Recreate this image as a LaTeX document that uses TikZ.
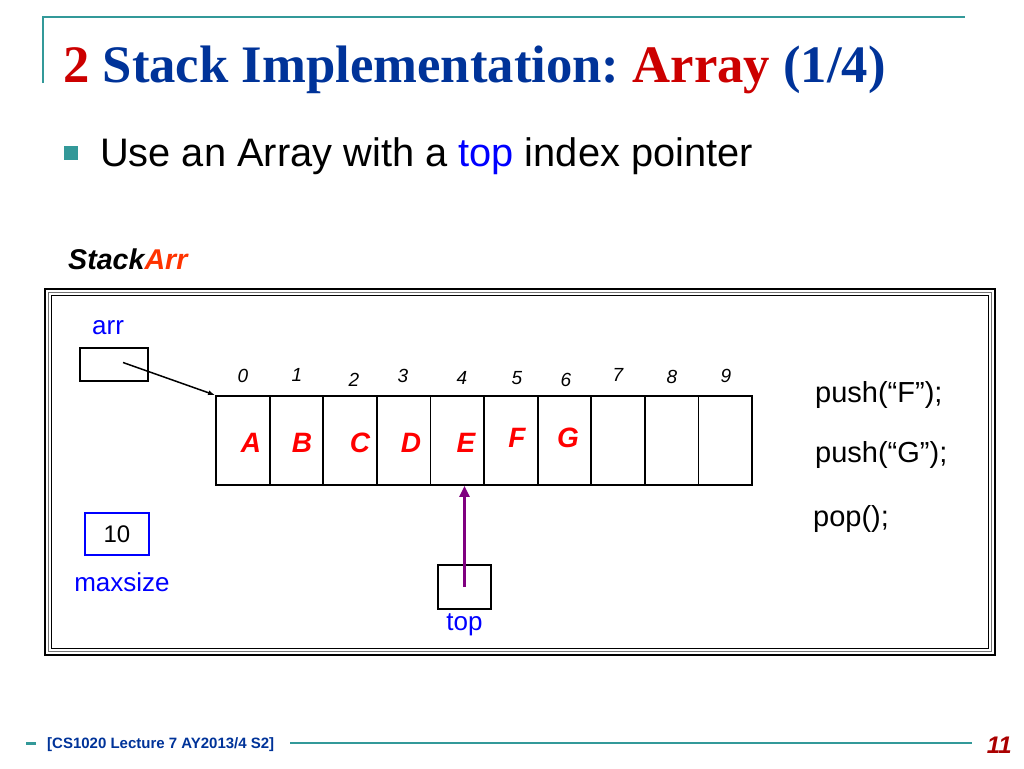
\documentclass[tikz,border=0pt]{standalone}
\usepackage{fontspec}
\setmainfont{Liberation Sans}
\newfontfamily\titlefont{Liberation Serif}
\usepackage{tikz}
\usetikzlibrary{positioning,arrows.meta}

\definecolor{slideteal}{RGB}{51,153,153}
\definecolor{titleblue}{RGB}{0,51,153}
\definecolor{titlered}{RGB}{204,0,0}
\definecolor{arrorange}{RGB}{255,51,0}
\definecolor{ptrpurple}{RGB}{128,0,128}
\definecolor{pagered}{RGB}{170,0,0}
\newcommand{\fsz}[1]{\fontsize{#1}{#1}\selectfont}
\frenchspacing

\begin{document}
\begin{tikzpicture}[
    x=1pt, y=-1pt,
    box/.style={draw, line width=1.8pt, inner sep=0pt},
    cell/.style={box, minimum width=53.6pt, minimum height=89pt},
    idx/.style={font={\fsz{19}\itshape}},
    elem/.style={text=red, font={\fsz{28}\bfseries\itshape}},
    code/.style={anchor=base west, inner sep=0pt, font={\fsz{29}}},
    lbl/.style={text=blue, inner sep=0pt, font={\fsz{26}}},
    arrow/.style={line width=1.5pt,-{Latex[length=7pt,width=5pt]}}
]

    \useasboundingbox (0,0) rectangle (1024,768);

    % Slide header and bullet
    \draw[slideteal, line width=2pt] (43,83) -- (43,17) -- (965,17);
    \node[anchor=base west, inner sep=0pt, font={\titlefont\fsz{52.7}\bfseries}] (title) at (63,82)
        {\textcolor{titlered}{2} \textcolor{titleblue}{Stack Implementation:} \textcolor{titlered}{Array} \textcolor{titleblue}{(1/4)}};
    \fill[slideteal] (64,146) rectangle (78,160);
    \node[anchor=base west, inner sep=0pt, font=\fsz{39.8}] (bullet) at (100,166)
        {Use an Array with a \textcolor{blue}{top} index pointer};
    \node[anchor=base west, inner sep=0pt, font={\fsz{28.6}\bfseries\itshape}] (classname) at (68,269)
        {Stack\textcolor{arrorange}{Arr}};

    % Draw frame
    \draw[line width=2.5pt] (45,289) rectangle (995,655);
    \draw[line width=1pt, black!55] (48.5,292.5) rectangle (991.5,651.5);
    \draw[line width=1.5pt] (51.5,295.5) rectangle (988.5,648.5);

    % Draw arr and the array cells
    \node[lbl, anchor=base west] (arrlbl) at (92,334) {arr};
    \node[box, minimum width=68pt, minimum height=33pt] (arrbox) at (114,364.5) {};
    \foreach \i in {0,...,9}
        \node[cell] (cell\i) at (242.8+53.6*\i,440.5) {};
    \foreach \i/\px/\py in {0/243/376, 1/297/375, 2/354/380, 3/403/376, 4/462/378,
                            5/517/378, 6/566/380, 7/618/375, 8/672/377, 9/726/376}
        \node[idx] (idx\i) at (\px,\py) {\i};
    \foreach \i/\px/\py/\t in {0/251/443/A, 1/302/443/B, 2/360/443/C, 3/411/443/D,
                               4/466/443/E, 5/517/438/F, 6/568/438/G}
        \node[elem] (elem\i) at (\px,\py) {\t};

    % Operations
    \node[code] (push1) at (815,402) {push(“F”);};
    \node[code] (push2) at (815,462) {push(“G”);};
    \node[code] (pop1) at (813,526) {pop();};

    % Draw maxsize and top
    \node[box, draw=blue, minimum width=64pt, minimum height=42pt, font=\fsz{24}] (sizebox) at (117,534) {10};
    \node[lbl, below=17pt of sizebox, xshift=5pt] (sizelbl) {maxsize};
    \node[box, minimum width=53pt, minimum height=44pt] (topbox) at (464.5,587) {};
    \node[lbl, below=4pt of topbox] (toplbl) {top};

    % Draw pointers
    \draw[arrow] ([xshift=9pt,yshift=2pt]arrbox.center) -- (cell0.north west);
    \draw[arrow, ptrpurple, line width=3pt, -{Triangle[length=11pt,width=10pt]}]
        (topbox.center) -- (topbox.center |- cell4.south);

    % Footer
    \draw[slideteal, line width=3pt] (26,743) -- (36,743);
    \node[anchor=base west, inner sep=0pt, text=titleblue, font={\fsz{15}\bfseries}] (footer) at (47,748)
        {[CS1020 Lecture 7 AY2013/4 S2]};
    \draw[slideteal, line width=2.5pt] (290,743) -- (972,743);
    \node[anchor=base east, inner sep=0pt, text=pagered, font={\fsz{24}\bfseries\itshape}] (pagenum) at (1012,753) {11};

\end{tikzpicture}
\end{document}
